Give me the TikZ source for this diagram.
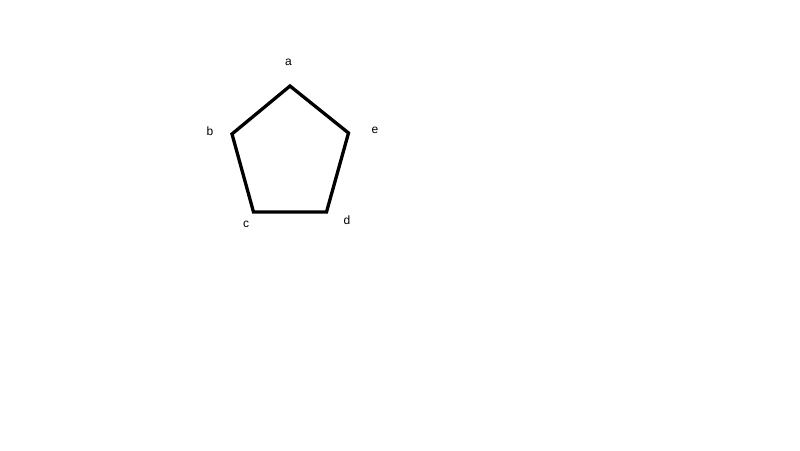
\documentclass[tikz,border=0pt]{standalone}
\usepackage{fontspec}
\setmainfont{Liberation Sans}
\begin{document}
\begin{tikzpicture}[x=1pt,y=-1pt,
  edge/.style={line width=3.3pt,line join=miter,black},
  lbl/.style={inner sep=0pt,font=\fontsize{12}{14}\selectfont}]
\useasboundingbox[fill=white] (0,0) rectangle (800,450);
\coordinate (va) at (290,86);
\coordinate (vb) at (232,134);
\coordinate (vc) at (253.5,212);
\coordinate (vd) at (326.5,212);
\coordinate (ve) at (348.5,133);
\draw[edge] (va) -- (vb) -- (vc) -- (vd) -- (ve) -- cycle;
\node[lbl] (la) at (288.5,62.5) {a};
\node[lbl] (lb) at (210,131.5) {b};
\node[lbl] (lc) at (246,224) {c};
\node[lbl] (ld) at (347,220.5) {d};
\node[lbl] (le) at (375,130.5) {e};
\end{tikzpicture}
\end{document}
